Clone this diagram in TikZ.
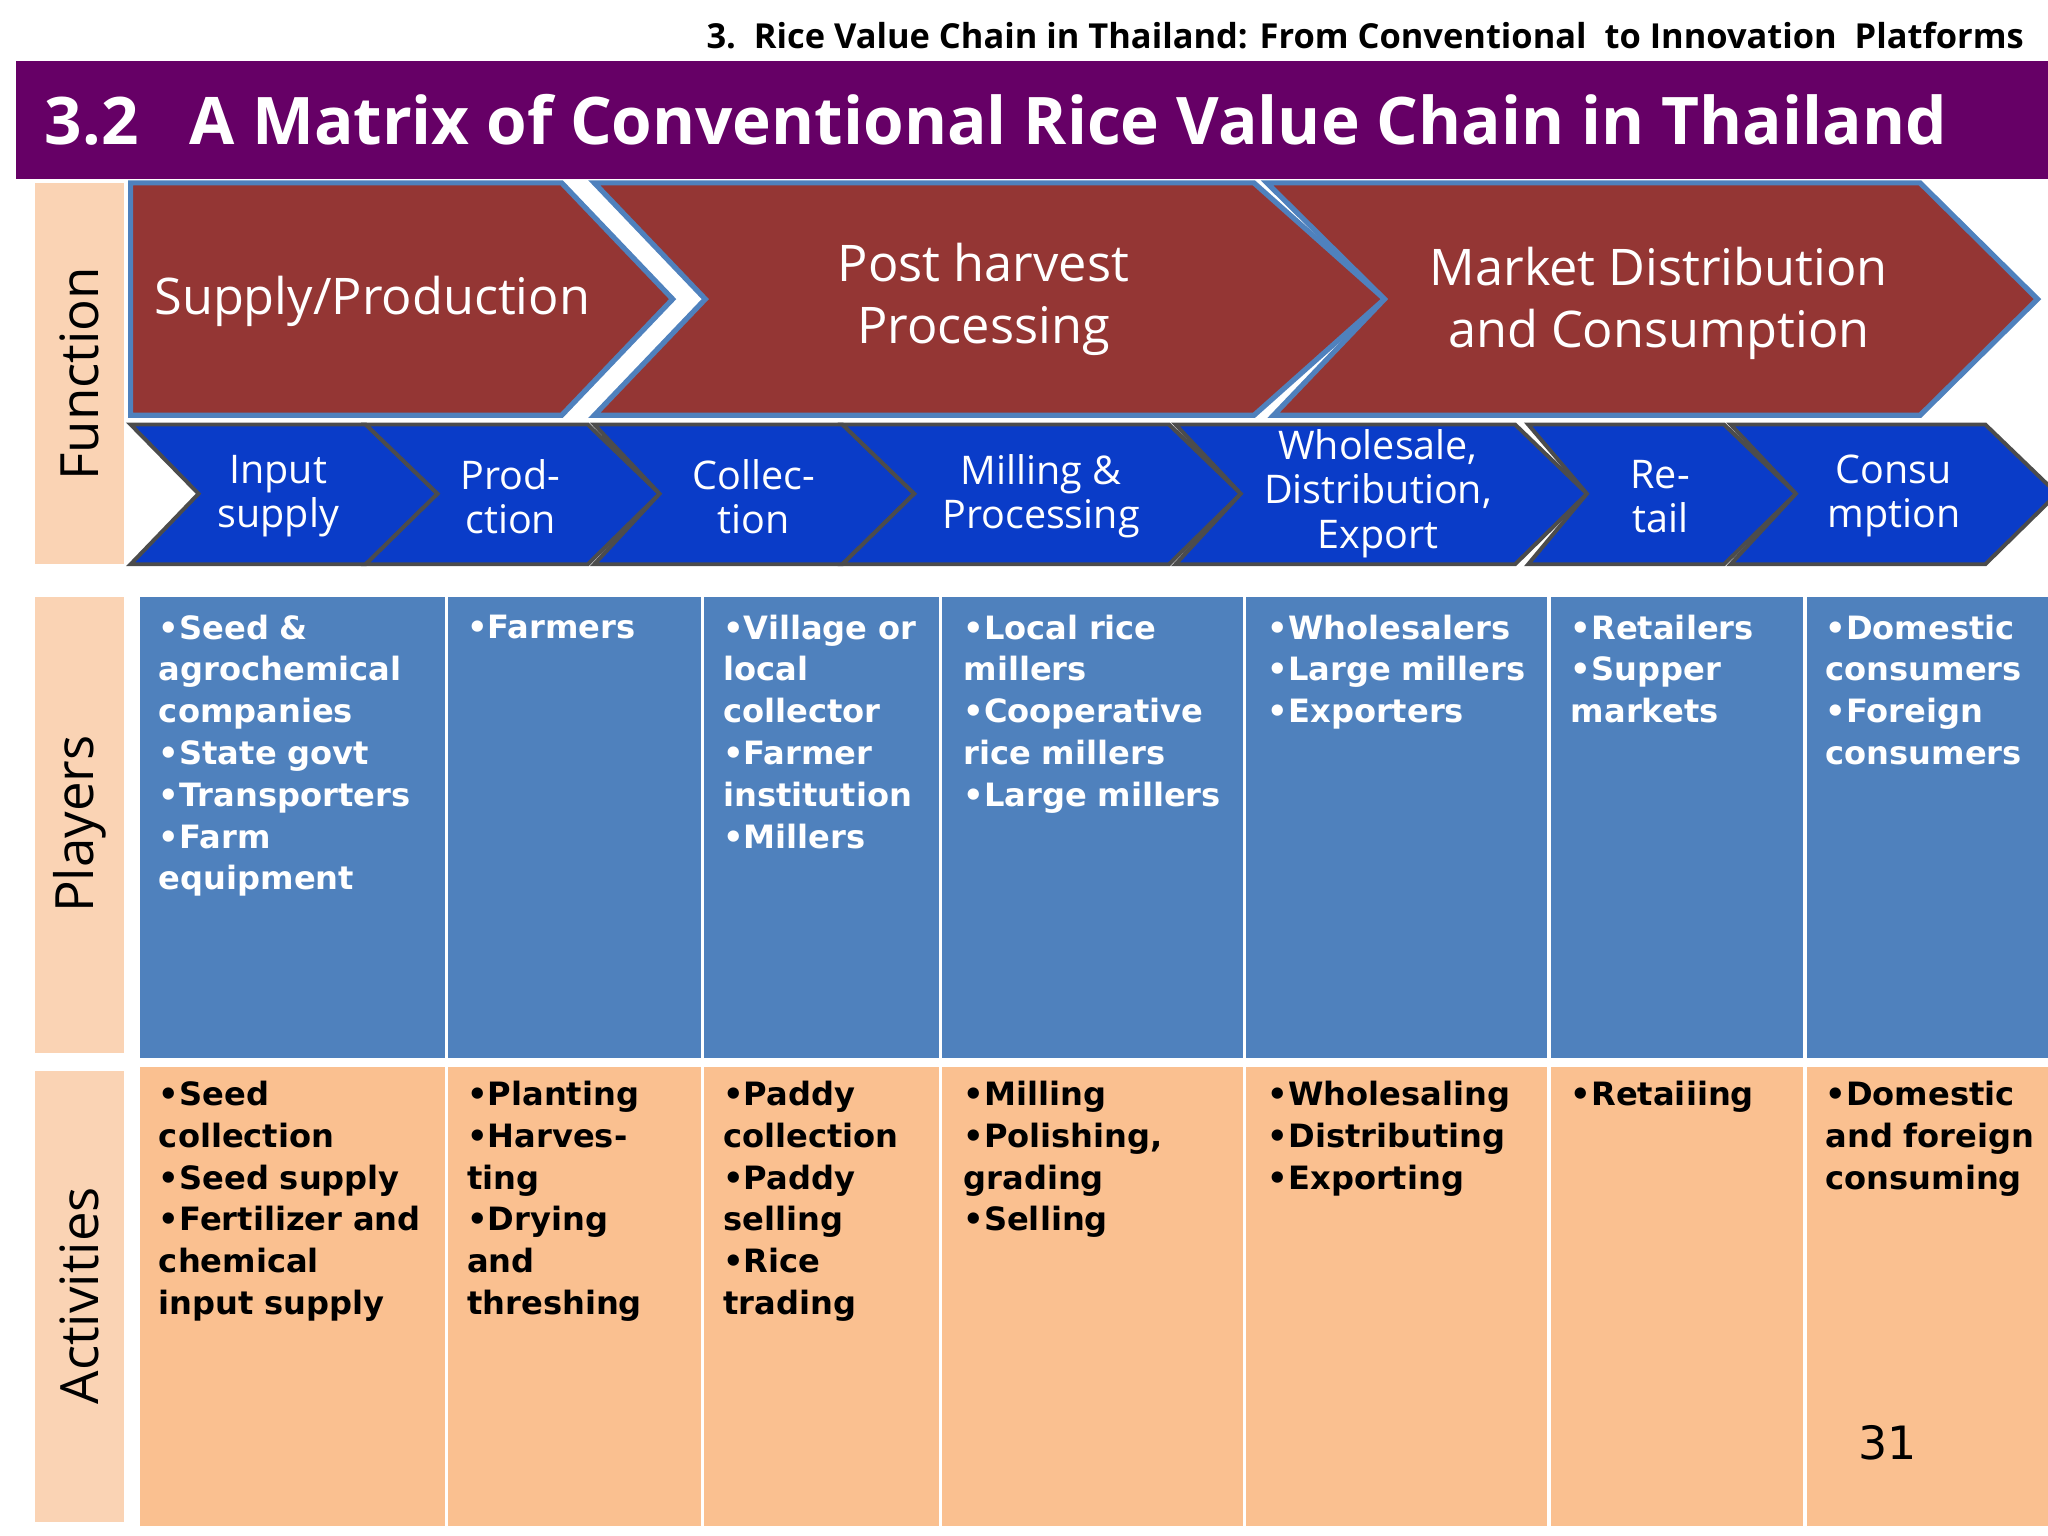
\documentclass[tikz,border=0pt]{standalone}
\usepackage{fontspec}
\setmainfont{DejaVu Sans}
\newfontfamily\headfont{Open Sans}
\usetikzlibrary{positioning}
\definecolor{bandpurple}{HTML}{660066}
\definecolor{sidepeach}{HTML}{FAD3B4}
\definecolor{funcred}{HTML}{943634}
\definecolor{stepblue}{HTML}{0A3CC8}
\definecolor{playblue}{HTML}{4F81BD}
\definecolor{actpeach}{HTML}{FAC090}
\tikzset{
  side/.style={font=\headfont\fontsize{11.5}{12}\selectfont, rotate=90},
  bigtext/.style={font=\headfont\fontsize{11}{13.5}\selectfont, white, align=center},
  steptext/.style={font=\headfont\fontsize{8.6}{9.6}\selectfont, white, align=center},
  cell/.style={anchor=north west, align=left, font=\bfseries\fontsize{7}{9.1}\selectfont, inner sep=0pt}
}
\begin{document}
\begin{tikzpicture}[x=0.1mm, y=-0.1mm]
	\useasboundingbox (0,0) rectangle (1568,1176);
	\node[anchor=east, font=\headfont\bfseries\fontsize{7.5}{8}\selectfont] (top) at (1562,27) {3.\ \ Rice Value Chain in Thailand: From Conventional\ \ to Innovation\ \ Platforms};
	\fill[bandpurple] (12,47) rectangle (1568,137);
	\node[anchor=west, white, font=\headfont\bfseries\fontsize{14.3}{16}\selectfont] (title) at (22,92) {3.2\ \ \ A Matrix of Conventional Rice Value Chain in Thailand};
	% side labels
	\fill[sidepeach] (27,140) rectangle (95,432);
	\fill[sidepeach] (27,457) rectangle (95,806);
	\fill[sidepeach] (27,820) rectangle (95,1165);
	\node[side] (fun) at (61,286) {Function};
	\node[side] (pla) at (61,631) {Players};
	\node[side] (act) at (61,992) {Activities};
	% functions
	\begin{scope}[fill=funcred, draw=playblue, line width=0.4mm]
		\filldraw (100,140) -- (430,140) -- (515,229) -- (430,318) -- (100,318) -- cycle;
		\filldraw (455,140) -- (960,140) -- (1060,229) -- (960,318) -- (455,318) -- (540,229) -- cycle;
		\filldraw (970,140) -- (1470,140) -- (1560,229) -- (1470,318) -- (975,318) -- (1060,229) -- cycle;
	\end{scope}
	\node[bigtext] (supply) at (285,231) {Supply/Production};
	\node[bigtext] (post) at (753,229) {Post harvest\\Processing};
	\node[bigtext] (market) at (1270,232) {Market Distribution\\and Consumption};
	% value chain steps
	\begin{scope}[fill=stepblue, draw=black!70, line width=0.3mm]
		\foreach \a/\b/\c in {100/280/152, 280/450/335, 455/645/505, 645/895/700, 900/1160/950, 1170/1320/1215, 1325/1520/1375}
			\filldraw (\a,325) -- (\b,325) -- (\b+55,378) -- (\b,432) -- (\a,432) -- (\c,378) -- cycle;
	\end{scope}
	\node[steptext] (input) at (213,380) {Input\\supply};
	\node[steptext] (prod) at (391,380) {Prod-\\ction};
	\node[steptext] (coll) at (577,380) {Collec-\\tion};
	\node[steptext] (mill) at (797,380) {Milling \&\\Processing};
	\node[steptext] (whole) at (1055,378) {Wholesale,\\Distribution,\\Export};
	\node[steptext] (retail) at (1271,380) {Re-\\tail};
	\node[steptext] (cons) at (1450,380) {Consu\\mption};
	% players and activities
	\fill[playblue] (107,457) rectangle (1568,810);
	\fill[actpeach] (107,817) rectangle (1568,1168);
	\foreach \x in {342,538,720,953,1186,1382}
		\draw[white, line width=0.25mm] (\x,457) -- (\x,1168);
	\draw[white, line width=0.6mm] (107,813) -- (1568,813);
	\begin{scope}[every node/.style={cell, white}]
		\node[text width=21mm] (p1) at (121,470) {•Seed \&\\agrochemical\\companies\\•State govt\\•Transporters\\•Farm\\equipment};
		\node[text width=17.5mm] (p2) at (357,470) {•Farmers};
		\node[text width=16.5mm] (p3) at (553,470) {•Village or\\local\\collector\\•Farmer\\institution\\•Millers};
		\node[text width=21.5mm] (p4) at (737,470) {•Local rice\\millers\\•Cooperative\\rice millers\\•Large millers};
		\node[text width=21.5mm] (p5) at (970,470) {•Wholesalers\\•Large millers\\•Exporters};
		\node[text width=18mm] (p6) at (1202,470) {•Retailers\\•Supper\\markets};
		\node[text width=18mm] (p7) at (1397,470) {•Domestic\\consumers\\•Foreign\\consumers};
	\end{scope}
	\begin{scope}[every node/.style={cell, black}]
		\node[text width=21mm] (a1) at (121,827) {•Seed\\collection\\•Seed supply\\•Fertilizer and\\chemical\\input supply};
		\node[text width=17.5mm] (a2) at (357,827) {•Planting\\•Harves-\\ting\\•Drying\\and\\threshing};
		\node[text width=16.5mm] (a3) at (553,827) {•Paddy\\collection\\•Paddy\\selling\\•Rice\\trading};
		\node[text width=21.5mm] (a4) at (737,827) {•Milling\\•Polishing,\\grading\\•Selling};
		\node[text width=21.5mm] (a5) at (970,827) {•Wholesaling\\•Distributing\\•Exporting};
		\node[text width=18mm] (a6) at (1202,827) {•Retaiiing};
		\node[text width=18mm] (a7) at (1397,827) {•Domestic\\and foreign\\consuming};
	\end{scope}
	\node[font=\fontsize{10}{10}\selectfont] (page) at (1445,1105) {31};
\end{tikzpicture}
\end{document}
